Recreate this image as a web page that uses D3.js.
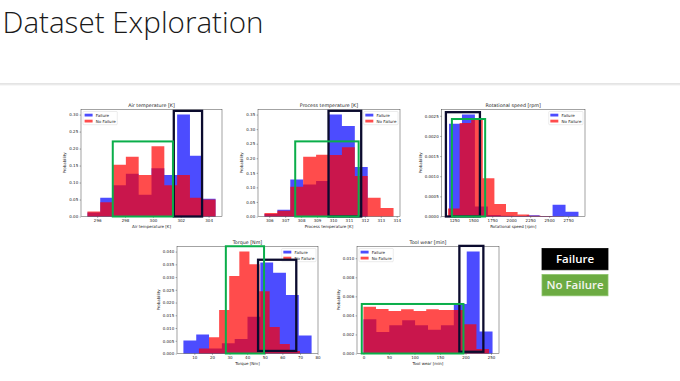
<!DOCTYPE html>
<html><head><meta charset="utf-8">
<script src="https://cdn.jsdelivr.net/npm/d3@7"></script>
<style>
html,body{margin:0;padding:0;background:#fff;}
svg{display:block;}
</style></head>
<body>
<svg id="c" width="680" height="381"></svg>
<script>
// ---------- DATA (probability densities per bin) ----------
const seriesNames = ["Failure", "No Failure"];

const airFailure       = [0.012, 0.055, 0.092, 0.126, 0.064, 0.142, 0.122, 0.300, 0.179, 0.052];
const airNoFailure     = [0.015, 0.042, 0.152, 0.176, 0.122, 0.207, 0.092, 0.122, 0.055, 0.050];
const airFailureRange  = [295.3, 304.5];
const airNoFailureRange= [295.3, 304.5];
const airXTicks = [296, 298, 300, 302, 304];
const airYTicks = [0, 0.05, 0.10, 0.15, 0.20, 0.25, 0.30];
const airGreenBox = [297.12, 301.44, 0, 0.221];
const airBlackBox = [301.5, 303.53, 0, 0.311];

const procFailure       = [0.009, 0.023, 0.127, 0.110, 0.122, 0.350, 0.311, 0.170, 0, 0];
const procNoFailure     = [0.0116, 0.020, 0.102, 0.205, 0.212, 0.211, 0.238, 0.139, 0.064, 0.029];
const procFailureRange  = [305.7, 313.8];
const procNoFailureRange= [305.7, 313.8];
const procXTicks = [306, 307, 308, 309, 310, 311, 312, 313, 314];
const procYTicks = [0, 0.05, 0.10, 0.15, 0.20, 0.25, 0.30, 0.35];
const procGreenBox = [307.63, 311.61, 0, 0.258];
const procBlackBox = [309.72, 311.77, 0, 0.363];

const rpmFailure       = [0.00230, 0.00253, 0.00025, 0.00004, 0.00002, 0.00001, 0.00003, 0.00001, 0.00029, 0.000116];
const rpmNoFailure     = [0.00020, 0.00232, 0.00243, 0.00095, 0.00031, 0.00011, 0.00005, 0.00002, 0.00001, 0.000005];
const rpmFailureRange  = [1181, 2886];
const rpmNoFailureRange= [1168, 2695];
const rpmXTicks = [1250, 1500, 1750, 2000, 2250, 2500, 2750];
const rpmYTicks = [0, 0.0005, 0.0010, 0.0015, 0.0020, 0.0025];
const rpmGreenBox = [1219, 1657, 0, 0.00242];
const rpmBlackBox = [1140, 1588, 0, 0.00259];

const torqueFailure       = [0.0051, 0.0075, 0.0020, 0.0040, 0.0057, 0.0144, 0.0357, 0.0317, 0.0230, 0.0071];
const torqueNoFailure     = [0.0020, 0.0064, 0.0171, 0.0304, 0.0400, 0.0350, 0.0244, 0.0104, 0.0037, 0.0010];
const torqueFailureRange  = [3.8, 76.6];
const torqueNoFailureRange= [12.6, 70.0];
const torqueXTicks = [10, 20, 30, 40, 50, 60, 70, 80];
const torqueYTicks = [0, 0.005, 0.010, 0.015, 0.020, 0.025, 0.030, 0.035, 0.040];
const torqueGreenBox = [27.9, 49.6, 0, 0.0421];
const torqueBlackBox = [46.2, 67.9, 0.001, 0.0368];

const wearFailure       = [0.0036, 0.00225, 0.00296, 0.0035, 0.00296, 0.0025, 0.00296, 0.0052, 0.0107, 0.0023];
const wearNoFailure     = [0.0049, 0.00468, 0.00446, 0.00464, 0.00446, 0.00464, 0.00457, 0.00457, 0.00307, 0.00046];
const wearFailureRange  = [0, 253];
const wearNoFailureRange= [0, 246];
const wearXTicks = [0, 50, 100, 150, 200, 250];
const wearYTicks = [0, 0.002, 0.004, 0.006, 0.008, 0.010];
const wearGreenBox = [-3.3, 196, 0, 0.0052];
const wearBlackBox = [188, 235, 0.00018, 0.0113];

// ---------- STYLE / LAYOUT ----------
const F = "'DejaVu Sans', sans-serif";
const BLUE = "#0000ff", RED = "#ff0000";
const GREEN = "#0aae4a", BLACK = "#0b0b2e";
const svg = d3.select("#c");

// header
const head = svg.append("text").attr("x", 2.5).attr("y", 33.3)
  .attr("font-family", "'Open Sans', Lato, sans-serif").attr("font-weight", 300)
  .attr("font-size", 30).attr("fill", "#1a1a1a").text("Dataset Exploration");
const hw = head.node().getComputedTextLength();
head.attr("font-size", 30 * 261 / hw);

svg.append("rect").attr("x", 0).attr("y", 83.4).attr("width", 680).attr("height", 1.1).attr("fill", "#d2d2d2");
svg.append("rect").attr("x", 0).attr("y", 84.5).attr("width", 680).attr("height", 0.9).attr("fill", "#ececec");

const charts = [
  {title: "Air temperature [K]", xlabel: "Air temperature [K]", fail: airFailure, ok: airNoFailure,
   fr: airFailureRange, or: airNoFailureRange, xt: airXTicks, yt: airYTicks, yf: ".2f", xf: d => d,
   frame: {x0: 81, x1: 222, y0: 109.5, y1: 216.5}, leg: "left", green: airGreenBox, black: airBlackBox},
  {title: "Process temperature [K]", xlabel: "Process temperature [K]", fail: procFailure, ok: procNoFailure,
   fr: procFailureRange, or: procNoFailureRange, xt: procXTicks, yt: procYTicks, yf: ".2f", xf: d => d,
   frame: {x0: 258, x1: 400, y0: 109.5, y1: 216.5}, leg: "right", green: procGreenBox, black: procBlackBox},
  {title: "Rotational speed [rpm]", xlabel: "Rotational speed [rpm]", fail: rpmFailure, ok: rpmNoFailure,
   fr: rpmFailureRange, or: rpmNoFailureRange, xt: rpmXTicks, yt: rpmYTicks, yf: ".4f", xf: d => d,
   frame: {x0: 441.5, x1: 585, y0: 109.5, y1: 216.5}, leg: "right", green: rpmGreenBox, black: rpmBlackBox},
  {title: "Torque [Nm]", xlabel: "Torque [Nm]", fail: torqueFailure, ok: torqueNoFailure,
   fr: torqueFailureRange, or: torqueNoFailureRange, xt: torqueXTicks, yt: torqueYTicks, yf: ".3f", xf: d => d,
   frame: {x0: 177, x1: 318, y0: 246.5, y1: 353.5}, leg: "right", green: torqueGreenBox, black: torqueBlackBox},
  {title: "Tool wear [min]", xlabel: "Tool wear [min]", fail: wearFailure, ok: wearNoFailure,
   fr: wearFailureRange, or: wearNoFailureRange, xt: wearXTicks, yt: wearYTicks, yf: ".3f", xf: d => d,
   frame: {x0: 357, x1: 499, y0: 246.5, y1: 353.5}, leg: "left", green: wearGreenBox, black: wearBlackBox}
];

const FS = 4.0, TFS = 4.8, TICK = 1.4, PAD = 1.4;

function drawChart(c) {
  const {x0, x1, y0, y1} = c.frame;
  const g = svg.append("g");
  const lo = Math.min(c.fr[0], c.or[0]), hi = Math.max(c.fr[1], c.or[1]);
  const m = (hi - lo) * 0.05;
  const x = d3.scaleLinear().domain([lo - m, hi + m]).range([x0, x1]);
  const ymax = Math.max(d3.max(c.fail), d3.max(c.ok)) * 1.05;
  const y = d3.scaleLinear().domain([0, ymax]).range([y1, y0]);

  const bins = (vals, r) => {
    const w = (r[1] - r[0]) / vals.length;
    return vals.map((v, i) => ({a: r[0] + i * w, b: r[0] + (i + 1) * w, v}));
  };
  const stepPts = bs => {
    const pts = [[bs[0].a, 0]];
    bs.forEach(b => { pts.push([b.a, b.v]); pts.push([b.b, b.v]); });
    pts.push([bs[bs.length - 1].b, 0]);
    return pts;
  };
  const line = d3.line().x(d => x(d[0])).y(d => y(d[1]));
  [[c.fail, c.fr, BLUE], [c.ok, c.or, RED]].forEach(([vals, r, col]) => {
    g.append("path").attr("d", line(stepPts(bins(vals, r))) + "Z")
      .attr("fill", col).attr("fill-opacity", 0.7);
  });

  // frame
  g.append("rect").attr("x", x0).attr("y", y0).attr("width", x1 - x0).attr("height", y1 - y0)
    .attr("fill", "none").attr("stroke", "#333").attr("stroke-width", 0.45);

  // axes
  const xa = g.append("g").attr("transform", `translate(0,${y1})`)
    .call(d3.axisBottom(x).tickValues(c.xt).tickSize(TICK).tickPadding(PAD).tickFormat(c.xf));
  const ya = g.append("g").attr("transform", `translate(${x0},0)`)
    .call(d3.axisLeft(y).tickValues(c.yt).tickSize(TICK).tickPadding(PAD).tickFormat(d3.format(c.yf)));
  [xa, ya].forEach(a => {
    a.select(".domain").remove();
    a.selectAll("line").attr("stroke", "#333").attr("stroke-width", 0.4);
    a.selectAll("text").attr("font-size", FS).attr("font-family", F).attr("fill", "#222");
  });
  xa.selectAll("text").attr("dy", "0.71em");

  let maxW = 0;
  ya.selectAll("text").each(function () { maxW = Math.max(maxW, this.getComputedTextLength()); });

  // labels
  g.append("text").attr("x", (x0 + x1) / 2).attr("y", y0 - 2.6).attr("text-anchor", "middle")
    .attr("font-size", TFS).attr("font-family", F).attr("fill", "#222").text(c.title);
  g.append("text").attr("x", (x0 + x1) / 2).attr("y", y1 + TICK + PAD + FS * 1.05 + 1.5)
    .attr("dy", "0.75em").attr("text-anchor", "middle")
    .attr("font-size", FS).attr("font-family", F).attr("fill", "#222").text(c.xlabel);
  const ylx = x0 - TICK - PAD - maxW - 1.5 - FS * 0.4;
  g.append("text").attr("transform", `translate(${ylx},${(y0 + y1) / 2}) rotate(-90)`)
    .attr("text-anchor", "middle").attr("font-size", FS).attr("font-family", F).attr("fill", "#222")
    .text("Probability");

  // legend
  const pad = 1.6, hl = 8, hh = 2.8, htp = 3.2, ls = 2, rowH = FS;
  const tmp = g.append("text").attr("font-size", FS).attr("font-family", F).text(seriesNames[1]);
  const tw = tmp.node().getComputedTextLength(); tmp.remove();
  const lw = pad * 2 + hl + htp + tw, lh = pad * 2 + rowH * 2 + ls;
  const lx = c.leg === "left" ? x0 + 2 : x1 - 2 - lw, ly = y0 + 2;
  g.append("rect").attr("x", lx).attr("y", ly).attr("width", lw).attr("height", lh).attr("rx", 0.8)
    .attr("fill", "#fff").attr("fill-opacity", 0.8).attr("stroke", "#d0d0d0").attr("stroke-width", 0.4);
  seriesNames.forEach((t, i) => {
    const cy = ly + pad + rowH / 2 + i * (rowH + ls);
    g.append("rect").attr("x", lx + pad).attr("y", cy - hh / 2).attr("width", hl).attr("height", hh)
      .attr("fill", i === 0 ? BLUE : RED).attr("fill-opacity", 0.7);
    g.append("text").attr("x", lx + pad + hl + htp).attr("y", cy).attr("dy", "0.35em")
      .attr("font-size", FS).attr("font-family", F).attr("fill", "#222").text(t);
  });

  // highlight boxes (slide annotations)
  [[c.black, BLACK, 2.3], [c.green, GREEN, 2.0]].forEach(([b, col, sw]) => {
    g.append("rect").attr("x", x(b[0])).attr("y", y(b[3]))
      .attr("width", x(b[1]) - x(b[0])).attr("height", y(b[2]) - y(b[3]))
      .attr("fill", "none").attr("stroke", col).attr("stroke-width", sw);
  });
}
charts.forEach(drawChart);

// right-hand key
const keyItems = [
  {label: "Failure", fill: "#000000", text: "#ffffff", y: 248.5},
  {label: "No Failure", fill: "#6cab42", text: "#f4f4ee", y: 274.5}
];
keyItems.forEach(k => {
  svg.append("rect").attr("x", 542).attr("y", k.y).attr("width", 66).attr("height", 21.3)
    .attr("fill", k.fill).attr("stroke", k.fill === "#000000" ? "#000" : "#8cc46a").attr("stroke-width", 0.8);
  svg.append("text").attr("x", 575).attr("y", k.y + 10.8).attr("dy", "0.35em").attr("text-anchor", "middle")
    .attr("font-family", "'Open Sans', Lato, sans-serif").attr("font-weight", 600).attr("font-size", 11.5)
    .attr("fill", k.text).text(k.label);
});
</script>
</body></html>
